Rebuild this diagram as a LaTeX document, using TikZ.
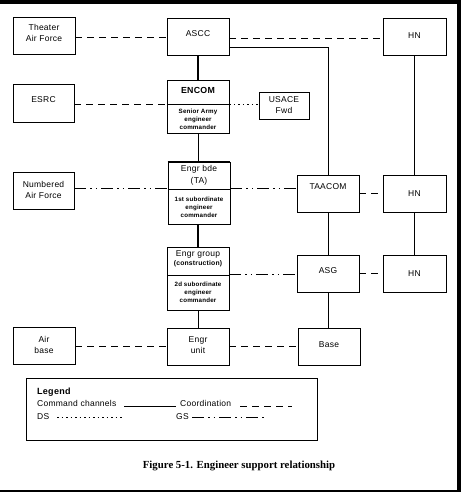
\documentclass[tikz,border=0pt]{standalone}
\usepackage{fontspec}
\newfontfamily\lblfont[LetterSpace=3]{Liberation Sans}
\newfontfamily\capfont{Liberation Serif}
\begin{document}
\begin{tikzpicture}[x=1pt,y=-1pt,
  box/.style={draw, line width=0.8pt, inner sep=0pt},
  lbl/.style={font=\lblfont\fontsize{8.5}{11}\selectfont, align=center, inner sep=0pt},
  sublbl/.style={font=\lblfont\bfseries\fontsize{6.2}{8}\selectfont, align=center, inner sep=0pt},
  cmdline/.style={line width=0.8pt},
  heavyline/.style={line width=2pt},
  coordline/.style={line width=0.8pt, dash pattern=on 7pt off 5pt},
  dsline/.style={line width=0.8pt, dash pattern=on 1.5pt off 3pt},
  gsline/.style={line width=0.8pt, dash pattern=on 12pt off 4pt on 1.5pt off 4pt on 1.5pt off 4pt},
]
\useasboundingbox (0,0) rectangle (461,492);
\fill[white] (0,0) rectangle (461,492);
% frame bars
\fill[black] (0,0) rectangle (461,4);
\fill[black] (457,0) rectangle (461,492);
\fill[black] (0,490) rectangle (461,492);

% ---- boxes ----
\node[box, minimum width=62pt, minimum height=37pt] (thea) at (44,35.5) {};
\node[lbl, yshift=3pt] (theat) at (thea) {Theater\\Air Force};
\node[box, minimum width=62pt, minimum height=37pt] (ascc) at (198,36.5) {};
\node[lbl, yshift=3pt] (asct) at (ascc) {ASCC};
\node[box, minimum width=63pt, minimum height=37pt] (hn1) at (414.5,36.5) {};
\node[lbl, yshift=1pt] (hn1t) at (hn1) {HN};

\node[box, minimum width=61pt, minimum height=38pt] (esrc) at (43.5,103) {};
\node[lbl, yshift=3pt] (esrct) at (esrc) {ESRC};
\node[box, minimum width=62pt, minimum height=24pt] (encomT) at (198,92) {};
\node[lbl, font=\lblfont\bfseries\fontsize{8.8}{11}\selectfont, yshift=2pt] (encomTt) at (encomT) {ENCOM};
\node[box, minimum width=62pt, minimum height=29pt] (encomB) at (198,118.5) {};
\node[sublbl, yshift=-1pt] (encomBt) at (encomB) {Senior Army\\engineer\\commander};
\node[box, minimum width=50pt, minimum height=27pt] (usace) at (284,105.5) {};
\node[lbl] (usacet) at (usace) {USACE\\Fwd};

\node[box, minimum width=61pt, minimum height=37pt] (naf) at (43.5,190.5) {};
\node[lbl, yshift=1pt] (naft) at (naf) {Numbered\\Air Force};
\node[box, minimum width=62pt, minimum height=27pt] (bdeT) at (199,175.5) {};
\node[lbl, font=\lblfont\fontsize{8.5}{12}\selectfont] (bdeTt) at (bdeT) {Engr bde\\(TA)};
\node[box, minimum width=62pt, minimum height=35pt] (bdeB) at (199,206.5) {};
\node[sublbl, yshift=-0.5pt] (bdeBt) at (bdeB) {1st subordinate\\engineer\\commander};
\node[box, minimum width=62pt, minimum height=37pt] (taacom) at (328,193.5) {};
\node[lbl, yshift=6.5pt] (taacomt) at (taacom) {TAACOM};
\node[box, minimum width=63pt, minimum height=37pt] (hn2) at (414.5,193.5) {};
\node[lbl] (hn2t) at (hn2) {HN};

\node[box, minimum width=62pt, minimum height=28pt] (grpT) at (198,261) {};
\node[lbl, yshift=2pt] (grpTt) at (grpT) {Engr group\\[-1.5pt]{\bfseries\fontsize{6.8}{8}\selectfont (construction)}};
\node[box, minimum width=62pt, minimum height=35pt] (grpB) at (198,292.5) {};
\node[sublbl] (grpBt) at (grpB) {2d subordinate\\engineer\\commander};
\node[box, minimum width=62pt, minimum height=37pt] (asg) at (328,273.5) {};
\node[lbl, yshift=2.5pt] (asgt) at (asg) {ASG};
\node[box, minimum width=63pt, minimum height=37pt] (hn3) at (414.5,273.5) {};
\node[lbl] (hn3t) at (hn3) {HN};

\node[box, minimum width=62pt, minimum height=37pt] (airb) at (44,345.5) {};
\node[lbl, yshift=1pt] (airbt) at (airb) {Air\\base};
\node[box, minimum width=62pt, minimum height=37pt] (unit) at (198,346.5) {};
\node[lbl, yshift=1.5pt] (unitt) at (unit) {Engr\\unit};
\node[box, minimum width=62pt, minimum height=37pt] (base) at (329,346.5) {};
\node[lbl, yshift=1.5pt] (baset) at (base) {Base};

% thick top edge of Engr bde
\draw[line width=1.8pt] (bdeT.north west) -- (bdeT.north east);

% ---- command channels ----
\draw[heavyline] (ascc.south) -- (encomT.north);
\draw[cmdline] (encomB.south) -- (encomB.south |- bdeT.north);
\draw[heavyline] (bdeB.south -| grpT.north) -- (grpT.north);
\draw[cmdline] (grpB.south) -- (unit.north);
\draw[cmdline] ([yshift=-10.5pt]ascc.east) -| (taacom.north);
\draw[cmdline] (taacom.south) -- (asg.north);
\draw[cmdline] (asg.south) -- (asg.south |- base.north);
\draw[cmdline] (hn1.south) -- (hn2.north);
\draw[cmdline] (hn2.south) -- (hn3.north);

% ---- coordination ----
\draw[coordline] ([yshift=-2pt]thea.east) -- ([yshift=-2pt]thea.east -| ascc.west);
\draw[coordline] ([yshift=-1.5pt]ascc.east) -- ([yshift=-1.5pt]hn1.west);
\draw[coordline] (esrc.east |- encomT.south) -- (encomT.south west);
\draw[coordline] (taacom.east) -- (hn2.west);
\draw[coordline] (asg.east) -- (hn3.west);
\draw[coordline] ([yshift=-1pt]airb.east) -- ([yshift=-1pt]airb.east -| unit.west);
\draw[coordline] (unit.east) -- (base.west);

% ---- DS ----
\draw[dsline] (encomT.south east) -- (encomT.south east -| usace.west);

% ---- GS ----
\draw[gsline] (naf.east |- bdeB.north) -- (bdeB.north west);
\draw[gsline] (bdeB.north east) -- (bdeB.north east -| taacom.west);
\draw[gsline] (grpB.north east) -- (grpB.north east -| asg.west);

% ---- legend ----
\node[box, minimum width=291pt, minimum height=62pt] (legend) at (171.5,409) {};
\node[font=\lblfont\bfseries\fontsize{9}{11}\selectfont, inner sep=0pt, anchor=base west] (leg) at (37,394) {Legend};
\node[lbl, anchor=base west] (lcmd) at (37,406) {Command channels};
\node[lbl, anchor=base west] (lcoord) at (180,406) {Coordination};
\node[lbl, anchor=base west] (lds) at (37,419) {DS};
\node[lbl, anchor=base west] (lgs) at (176,419) {GS};
\coordinate (c1a) at (124,406);
\coordinate (c1b) at (176,406);
\coordinate (c2a) at (240,406);
\coordinate (c2b) at (292,406);
\coordinate (c3a) at (57,417);
\coordinate (c3b) at (123,417);
\coordinate (c4a) at (192,417);
\coordinate (c4b) at (267,417);
\draw[cmdline] (c1a) -- (c1b);
\draw[coordline] (c2a) -- (c2b);
\draw[dsline] (c3a) -- (c3b);
\draw[gsline] (c4a) -- (c4b);

% ---- caption ----
\node[font=\capfont\bfseries\fontsize{10.8}{13}\selectfont, inner sep=0pt, anchor=base] (cap) at (239,468) {Figure 5-1. Engineer support relationship};
\end{tikzpicture}
\end{document}
